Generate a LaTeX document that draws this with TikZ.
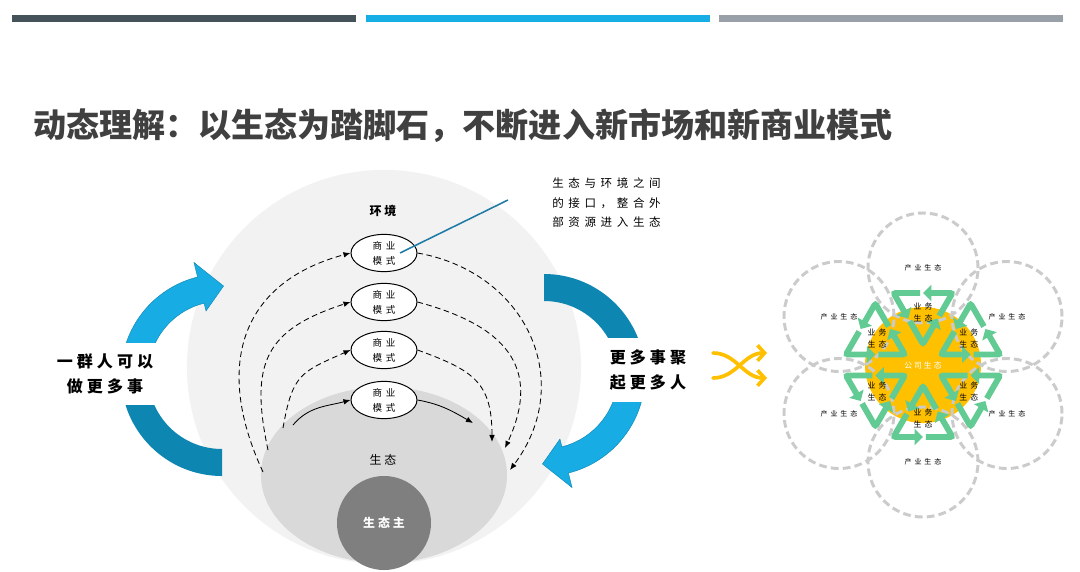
\documentclass[tikz,border=0pt]{standalone}
\usepackage{fontspec}
\usepackage{tikz}
\usetikzlibrary{arrows.meta, positioning, shapes.geometric, calc}
\newfontfamily\cjk{Noto Sans CJK SC}
\newfontfamily\cjkwide{Noto Sans CJK SC}[LetterSpace=40]
\newfontfamily\cjkmid{Noto Sans CJK SC}[LetterSpace=25]
\definecolor{BarDark}{HTML}{465259}
\definecolor{BarBlue}{HTML}{17AEE6}
\definecolor{BarGray}{HTML}{99A0A7}
\definecolor{TitleGray}{HTML}{404040}
\definecolor{EnvGray}{HTML}{F2F2F2}
\definecolor{EcoGray}{HTML}{D9D9D9}
\definecolor{HostGray}{HTML}{7F7F7F}
\definecolor{ArrowLight}{HTML}{17ACE3}
\definecolor{ArrowDark}{HTML}{0E86B2}
\definecolor{LeadBlue}{HTML}{1F7BA6}
\definecolor{Amber}{HTML}{FFC000}
\definecolor{Mint}{HTML}{62CA93}
\definecolor{RingGray}{HTML}{CBCBCB}

\begin{document}
\begin{tikzpicture}[
    x=0.025cm, y=0.025cm,
    title/.style={font=\cjk\bfseries\fontsize{23.5}{28}\selectfont, text=TitleGray, inner sep=0pt},
    envbg/.style={circle, fill=EnvGray, minimum size=9.85cm, inner sep=0pt},
    ecobg/.style={ellipse, fill=EcoGray, minimum width=6.15cm, minimum height=4.4cm, inner sep=0pt},
    host/.style={circle, fill=HostGray, minimum size=2.35cm, inner sep=0pt, text=white, font=\cjkmid\bfseries\fontsize{8.5}{10}\selectfont},
    tag/.style={inner sep=0pt, font=\cjkmid\fontsize{8.5}{10}\selectfont},
    model/.style={ellipse, draw=black, line width=0.7pt, fill=white, minimum width=1.65cm, minimum height=0.93cm, inner sep=0pt, align=center, font=\cjkwide\fontsize{6.8}{10.7}\selectfont},
    flow/.style={black, line width=0.6pt, dash pattern=on 4pt off 2.5pt, -{Latex[length=5pt,width=4pt]}},
    solidflow/.style={black, line width=0.6pt, -{Latex[length=5pt,width=4pt]}},
    leader/.style={LeadBlue, line width=1.1pt},
    note/.style={align=left, inner sep=0pt, font=\cjkwide\fontsize{8.2}{14.2}\selectfont},
    slogan/.style={fill=white, align=center, inner xsep=3pt, inner ysep=8pt, font=\cjkmid\bfseries\fontsize{11.4}{17.8}\selectfont},
    hub/.style={circle, fill=Amber, minimum size=2.9cm, inner sep=0pt, text=white, font=\cjkmid\fontsize{5.6}{6}\selectfont},
    ring/.style={circle, draw=RingGray, line width=2.1pt, dash pattern=on 5.5pt off 3pt, minimum size=2.75cm, inner sep=0pt, font=\cjkwide\fontsize{5}{6}\selectfont},
    bizarrow/.style={Mint, line width=4.2pt, rounded corners=1.5pt, -{Triangle[length=6pt,width=11.5pt]}},
    bizlabel/.style={align=center, inner sep=0pt, text=black, font=\cjkwide\fontsize{5.6}{8.5}\selectfont},
    shuffle/.style={Amber, line width=2.6pt, line cap=round, -{Straight Barb[length=5pt,width=11pt]}}
]
\fill[white] (0,0) rectangle (1080,-572);
\useasboundingbox (0,0) rectangle (1080,-572);

% Header bars and title
\fill[BarDark] (12,-15) rectangle (356,-22);
\fill[BarBlue] (366,-15) rectangle (710,-22);
\fill[BarGray] (719,-15) rectangle (1063,-22);
\node[title, anchor=west] (title) at (33,-126) {动态理解：以生态为踏脚石，不断进入新市场和新商业模式};

% Environment, ecosystem, host
\node[envbg] (env) at (384,-367) {};
\node[ecobg] (eco) at (384,-475) {};
\node[host] (owner) at (384,-523) {生态主};
\node[tag, font=\cjkmid\bfseries\fontsize{8.5}{10}\selectfont] (envtag) at (383,-211) {环境};
\node[tag] (ecotag) at (383,-460) {生态};

% Business models
\foreach \i/\y in {1/253, 2/302, 3/350, 4/400}
    \node[model] (bm\i) at (384,-\y) {商业\\模式};

% Free ends of the loops
\coordinate (in1) at (263,-472);
\coordinate (in2) at (268,-450);
\coordinate (in3) at (283,-428);
\coordinate (in4) at (293,-425);
\coordinate (out1) at (510,-470);
\coordinate (out2) at (505,-448);
\coordinate (out3) at (492,-442);
\coordinate (out4) at (473,-423);

\draw[flow] (in1) to[out=115, in=195, looseness=1.25] (bm1.west);
\draw[flow] (bm1.east) to[out=-10, in=53, looseness=1.2] (out1);
\draw[flow] (in2) to[out=102, in=198, looseness=1.35] (bm2.west);
\draw[flow] (bm2.east) to[out=-15, in=65, looseness=1.35] (out2);
\draw[flow] (in3) to[out=80, in=204, looseness=1.36] (bm3.west);
\draw[flow] (bm3.east) to[out=-20, in=90, looseness=1.29] (out3);
\draw[solidflow] (in4) to[out=50, in=195] (bm4.west);
\draw[solidflow] (bm4.east) to[out=-10, in=150] (out4);

% Note with leader
\node[note, anchor=north west] (note) at (552,-177) {生态与环境之间\\的接口，整合外\\部资源进入生态};
\coordinate (lead) at (508,-200);
\draw[leader] ([xshift=0.4cm]bm1.center) -- (lead);

% Left loop arrow
\begin{scope}[shift={(222,-375)}]
    \fill[ArrowDark] (270:101) arc[start angle=270, end angle=180, radius=101]
        -- (180:74) arc[start angle=180, end angle=270, radius=74] -- cycle;
    \fill[ArrowLight, draw=ArrowDark, line width=0.3pt] (180:101) arc[start angle=180, end angle=104, radius=101]
        -- (104:116) -- (89:89) -- (104:66) -- (104:74)
        arc[start angle=104, end angle=180, radius=74] -- cycle;
\end{scope}
\node[slogan] (crowd) at (105,-374) {一群人可以\\做更多事};

% Right loop arrow
\begin{scope}[shift={(544,-375)}]
    \fill[ArrowDark] (90:101) arc[start angle=90, end angle=0, radius=101]
        -- (0:74) arc[start angle=0, end angle=90, radius=74] -- cycle;
    \fill[ArrowLight, draw=ArrowDark, line width=0.3pt] (0:101) arc[start angle=0, end angle=-76, radius=101]
        -- (-76:116) -- (-91:89) -- (-76:66) -- (-76:74)
        arc[start angle=-76, end angle=0, radius=74] -- cycle;
\end{scope}
\node[slogan] (gather) at (648,-370) {更多事聚\\起更多人};

% Shuffle icon
\coordinate (sfa) at (713,-353);
\coordinate (sfb) at (713,-378);
\coordinate (sfc) at (767,-353);
\coordinate (sfd) at (767,-378);
\draw[shuffle] (sfa) to[out=0, in=180] (sfd);
\draw[shuffle] (sfb) to[out=0, in=180] (sfc);

% Company ecosystem with industry rings
\node[hub] (hub) at (923,-365) {公司生态};
\foreach \ang [count=\i] in {90,30,-30,-90,-150,150}
    \node[ring] (ind\i) at ($(hub)+(\ang:97)$) {产业生态};

% Business ecosystems: recycling triangles
\foreach \ang [count=\i] in {90,30,-30,-90,-150,150} {
    \begin{scope}[shift={($(hub)+(\ang:55)$)}, rotate=\ang-90]
        \foreach \v in {-90,30,150}
            \draw[bizarrow] ($(\v-120:34)!0.55!(\v:34)$) -- (\v:34) -- ($(\v:34)!0.5!(\v+120:34)$);
    \end{scope}
    \node[bizlabel] (biz\i) at ($(hub)+(\ang:53)$) {业务\\生态};
}
\end{tikzpicture}
\end{document}
